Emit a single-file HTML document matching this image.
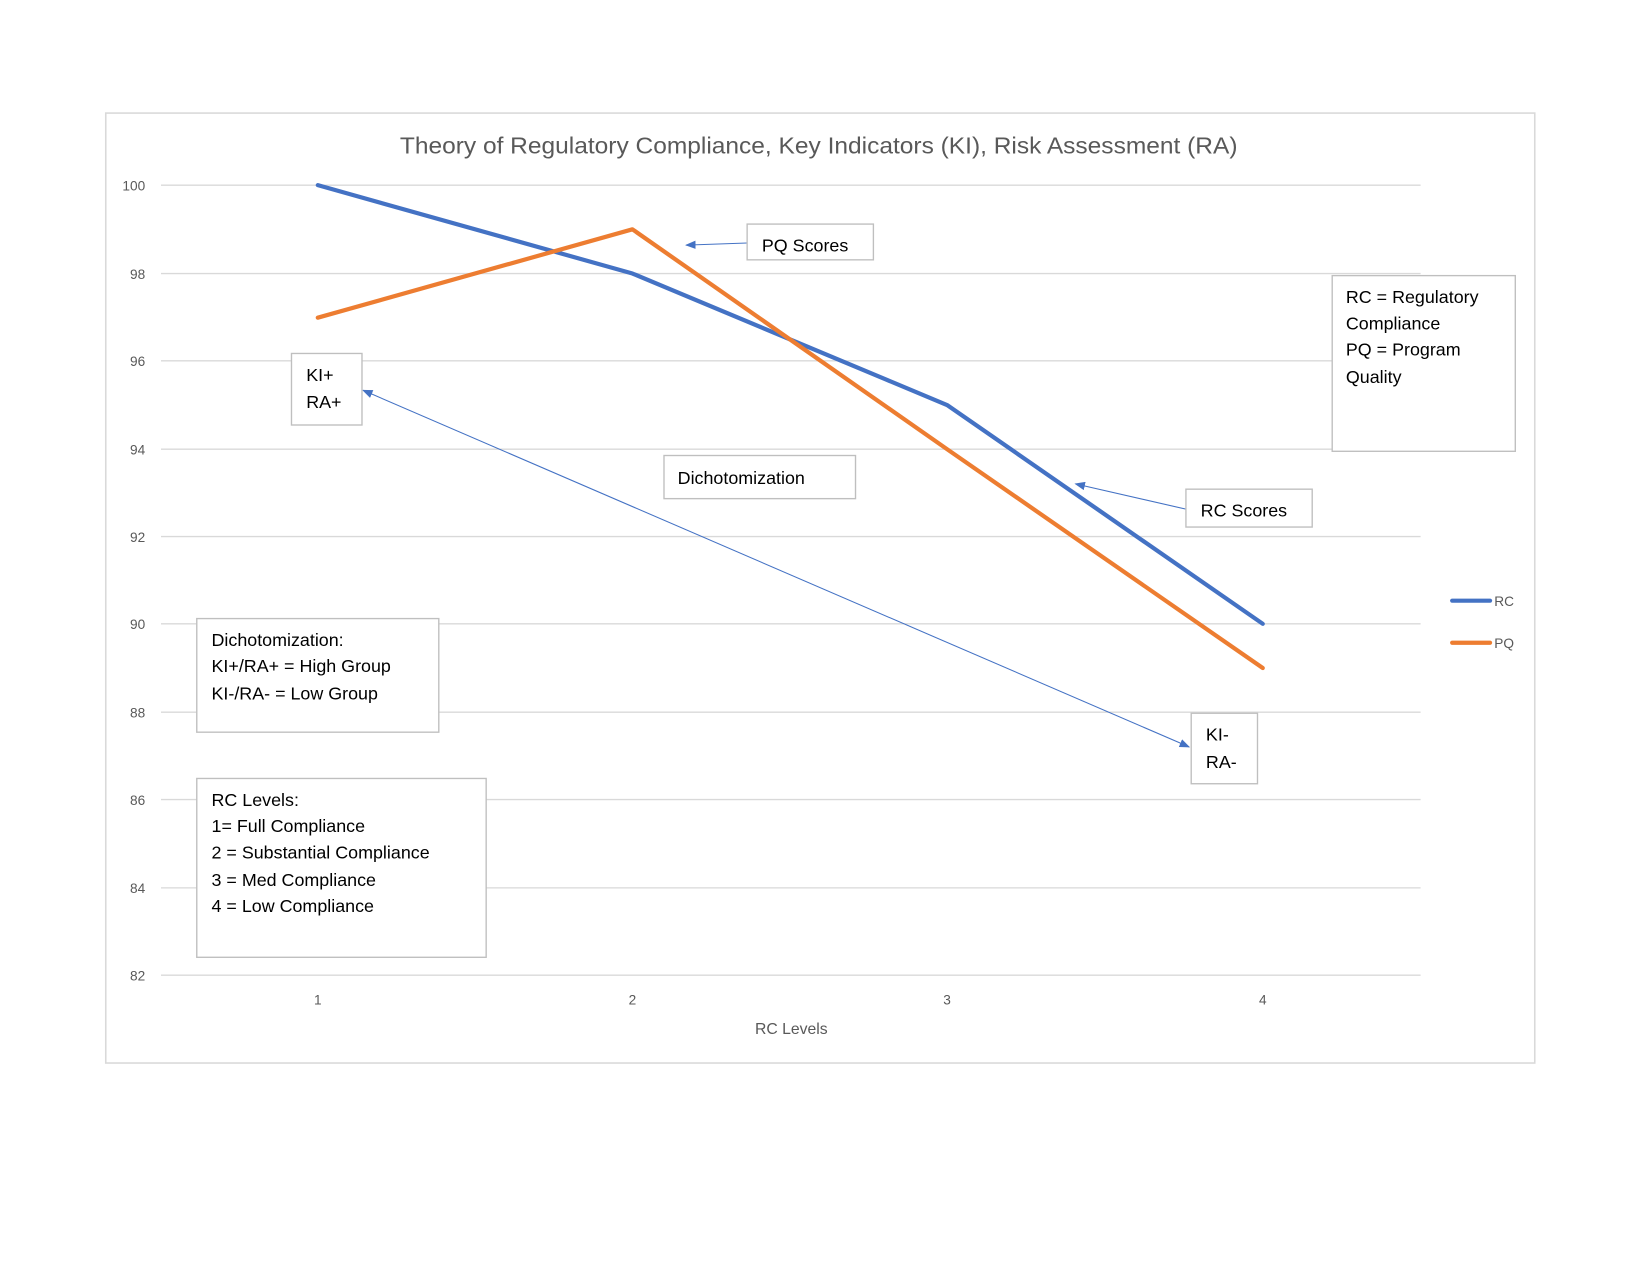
<!DOCTYPE html>
<html><head><meta charset="utf-8"><style>
html,body{margin:0;padding:0;background:#fff;}
svg{display:block;}
text{font-family:"Liberation Sans",sans-serif;}
</style></head><body>
<svg width="1650" height="1275" viewBox="0 0 1568 1212" preserveAspectRatio="none" xmlns="http://www.w3.org/2000/svg">
<defs>
<marker id="ah" markerWidth="10" markerHeight="8" refX="9" refY="4" orient="auto" markerUnits="userSpaceOnUse">
<path d="M0,0 L10,4 L0,8 z" fill="#4472C4"/></marker>
<marker id="ahs" markerWidth="10" markerHeight="8" refX="1" refY="4" orient="auto" markerUnits="userSpaceOnUse">
<path d="M10,0 L0,4 L10,8 z" fill="#4472C4"/></marker>
</defs>
<rect x="100.5" y="107.5" width="1358" height="903" fill="#fff" stroke="#d9d9d9" stroke-width="1.5"/>
<text x="380" y="146" textLength="796" lengthAdjust="spacingAndGlyphs" font-size="22" fill="#595959">Theory of Regulatory Compliance, Key Indicators (KI), Risk Assessment (RA)</text>
<g stroke="#d9d9d9" stroke-width="1.3">
<line x1="153" x2="1350" y1="176" y2="176"/><line x1="153" x2="1350" y1="260" y2="260"/>
<line x1="153" x2="1350" y1="343" y2="343"/><line x1="153" x2="1350" y1="427" y2="427"/>
<line x1="153" x2="1350" y1="510" y2="510"/><line x1="153" x2="1350" y1="593" y2="593"/>
<line x1="153" x2="1350" y1="677" y2="677"/><line x1="153" x2="1350" y1="760" y2="760"/>
<line x1="153" x2="1350" y1="844" y2="844"/><line x1="153" x2="1350" y1="927" y2="927"/>
</g>
<g font-size="13" fill="#595959" text-anchor="end">
<text x="138" y="181">100</text><text x="138" y="265">98</text><text x="138" y="348">96</text>
<text x="138" y="432">94</text><text x="138" y="515">92</text><text x="138" y="598">90</text>
<text x="138" y="682">88</text><text x="138" y="765">86</text><text x="138" y="849">84</text>
<text x="138" y="932">82</text>
</g>
<g font-size="13" fill="#595959" text-anchor="middle">
<text x="302" y="955">1</text><text x="601" y="955">2</text><text x="900" y="955">3</text><text x="1200" y="955">4</text>
<text x="752" y="983" font-size="15">RC Levels</text>
</g>
<polyline points="302,176 601,260 900,385 1200,593" fill="none" stroke="#4472C4" stroke-width="4" stroke-linejoin="round" stroke-linecap="round"/>
<polyline points="302,302 601,218 900,427 1200,635" fill="none" stroke="#ED7D31" stroke-width="4" stroke-linejoin="round" stroke-linecap="round"/>
<line x1="1380" x2="1416" y1="571" y2="571" stroke="#4472C4" stroke-width="4" stroke-linecap="round"/>
<text x="1420" y="576" font-size="13" fill="#595959">RC</text>
<line x1="1380" x2="1416" y1="611" y2="611" stroke="#ED7D31" stroke-width="4" stroke-linecap="round"/>
<text x="1420" y="616" font-size="13" fill="#595959">PQ</text>
<g stroke="#4472C4" stroke-width="1">
<line x1="710" y1="231" x2="652" y2="233" marker-end="url(#ah)"/>
<line x1="1127" y1="484" x2="1022" y2="460" marker-end="url(#ah)"/>
<line x1="345" y1="371" x2="1130" y2="710" marker-start="url(#ahs)" marker-end="url(#ah)"/>
</g>
<g fill="#fff" stroke="#bfbfbf" stroke-width="1.3">
<rect x="710" y="213" width="120" height="34"/>
<rect x="1266" y="262" width="174" height="167"/>
<rect x="277" y="336" width="67" height="68"/>
<rect x="631" y="433" width="182" height="41"/>
<rect x="1127" y="465" width="120" height="36"/>
<rect x="1132" y="678" width="63" height="67"/>
<rect x="187" y="588" width="230" height="108"/>
<rect x="187" y="740" width="275" height="170"/>
</g>
<g font-size="17" fill="#000">
<text x="724" y="239">PQ Scores</text>
<text x="1279" y="288">RC = Regulatory</text>
<text x="1279" y="313">Compliance</text>
<text x="1279" y="338">PQ = Program</text>
<text x="1279" y="364">Quality</text>
<text x="291" y="362">KI+</text>
<text x="291" y="388">RA+</text>
<text x="644" y="460">Dichotomization</text>
<text x="1141" y="491">RC Scores</text>
<text x="1146" y="704">KI-</text>
<text x="1146" y="730">RA-</text>
<text x="201" y="614">Dichotomization:</text>
<text x="201" y="639">KI+/RA+ = High Group</text>
<text x="201" y="665">KI-/RA- = Low Group</text>
<text x="201" y="766">RC Levels:</text>
<text x="201" y="791">1= Full Compliance</text>
<text x="201" y="816">2 = Substantial Compliance</text>
<text x="201" y="842">3 = Med Compliance</text>
<text x="201" y="867">4 = Low Compliance</text>
</g>
</svg>
</body></html>
